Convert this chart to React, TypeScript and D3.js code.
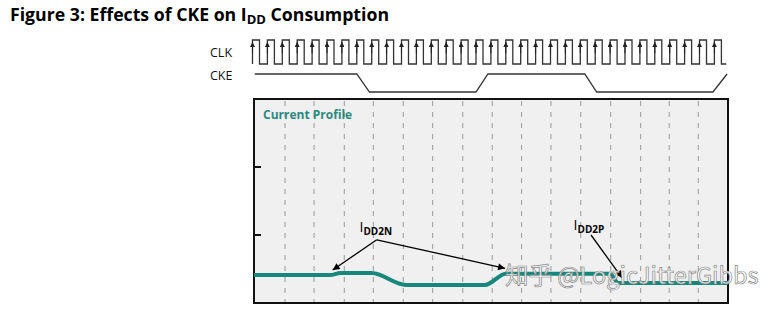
import React from "react";
import * as d3 from "d3";

// ---------- data ----------
const clkEdges = [0, 1, 2, 3, 4, 5, 6, 7, 8, 9, 10, 11, 12, 13, 14, 15, 16, 17, 18, 19, 20, 21, 22, 23, 24, 25, 26, 27, 28, 29, 30, 31];
const ckeTimes = [0.15, 7.0, 7.85, 15.0, 15.8, 22.3, 23.1, 30.9, 31.85];
const ckeLevels = [1, 1, 0, 0, 1, 1, 0, 0, 1];
const gridCycles = [2.18, 4.13, 6.16, 8.11, 10.12, 12.09, 14.11, 16.09, 18.06, 20.03, 22.03, 24.04, 26.05, 27.97, 29.92];
const yTicks = [1, 2];
const currentT = [0.1, 5.2, 5.9, 8.0, 10.3, 15.6, 17.0, 24.0, 24.55, 31.9];
const currentV = [0.41, 0.41, 0.44, 0.44, 0.265, 0.265, 0.43, 0.43, 0.295, 0.295];
const labels = [
  { main: "I", sub: "DD2N", t: 7.18, v: 1.04 },
  { main: "I", sub: "DD2P", t: 21.55, v: 1.07 },
];
const arrows = [
  { t0: 8.34, v0: 0.93, t1: 5.38, v1: 0.485 },
  { t0: 8.34, v0: 0.93, t1: 16.95, v1: 0.51 },
  { t0: 22.72, v0: 1.0, t1: 24.8, v1: 0.37 },
];

const W = 779;
const H = 310;
const FONT = "'Open Sans', 'Noto Sans', sans-serif";
const TEAL = "#15877b";

export default function App() {
  const x = d3.scaleLinear().domain([0, 32]).range([252.5, 252.5 + 32 * 14.9]);
  const y = d3.scaleLinear().domain([0, 3]).range([303, 99]);
  const clkY = d3.scaleLinear().domain([0, 1]).range([64, 40]);
  const ckeY = d3.scaleLinear().domain([0, 1]).range([92, 74]);

  const frameL = 254;
  const frameR = 728;
  const frameT = y(3);
  const frameB = y(0);

  // clock path
  const clkPts: [number, number][] = [];
  clkEdges.forEach((k) => {
    clkPts.push([x(k), clkY(0)]);
    clkPts.push([x(k), clkY(1)]);
    clkPts.push([x(k + 0.47), clkY(1)]);
    clkPts.push([x(k + 0.47), clkY(0)]);
  });
  clkPts.push([x(clkEdges[clkEdges.length - 1] + 0.8), clkY(0)]);
  const clkPath = d3.line()(clkPts) as string;

  const ckePath = d3.line<number>()
    .x((_, i) => x(ckeTimes[i]))
    .y((d) => ckeY(d))(ckeLevels) as string;

  const curPath = d3.line<number>()
    .x((_, i) => x(currentT[i]))
    .y((d) => y(d))
    .curve(d3.curveMonotoneX)(currentV) as string;

  return (
    <svg
      width={W}
      height={H}
      style={{ position: "absolute", left: 0, top: 0, background: "#fff" }}
      fontFamily={FONT}
    >
      <defs>
        <marker id="ah" viewBox="0 0 10 10" refX="10" refY="5" markerWidth="9" markerHeight="7" markerUnits="userSpaceOnUse" orient="auto">
          <path d="M0,0 L10,5 L0,10 z" fill="#000" />
        </marker>
        <marker id="clkArrow" viewBox="0 0 10 10" refX="10" refY="5" markerWidth="6" markerHeight="5" markerUnits="userSpaceOnUse" orient="auto">
          <path d="M0,0 L10,5 L0,10 z" fill="#222" />
        </marker>
      </defs>

      {/* title */}
      <text x={10} y={21} fontSize={17.7} fontWeight="bold" fill="#000">
        Figure 3: Effects of CKE on I
        <tspan fontSize={13} dy={3}>DD</tspan>
        <tspan dy={-3}> Consumption</tspan>
      </text>

      {/* signal labels */}
      <text x={210} y={57} fontSize={12.5} fill="#111">CLK</text>
      <text x={210} y={80} fontSize={12.5} fill="#111">CKE</text>

      {/* clock */}
      <path d={clkPath} fill="none" stroke="#333" strokeWidth={1.3} />
      {clkEdges.map((k) => (
        <line key={k} x1={x(k)} x2={x(k)} y1={clkY(0.45)} y2={clkY(0.92)} stroke="#222" strokeWidth={1} markerEnd="url(#clkArrow)" />
      ))}

      {/* CKE */}
      <path d={ckePath} fill="none" stroke="#333" strokeWidth={1.3} />

      {/* frame */}
      <rect x={frameL} y={frameT} width={frameR - frameL} height={frameB - frameT} fill="#f0f0f0" stroke="none" />
      {gridCycles.map((c, i) => (
        <line key={i} x1={x(c)} x2={x(c)} y1={frameT + 2} y2={frameB - 1} stroke="#9a9a9a" strokeWidth={1} strokeDasharray="5,6" />
      ))}
      <rect x={frameL} y={frameT} width={frameR - frameL} height={frameB - frameT} fill="none" stroke="#111" strokeWidth={2} />
      {yTicks.map((t) => (
        <line key={t} x1={frameL} x2={frameL + 7} y1={y(t)} y2={y(t)} stroke="#111" strokeWidth={2} />
      ))}

      <text x={263} y={119} fontSize={12} fontWeight="bold" fill="#2a8a80">Current Profile</text>

      {/* current line */}
      <path d={curPath} fill="none" stroke={TEAL} strokeWidth={4} />

      {/* annotations */}
      {arrows.map((a, i) => (
        <line key={i} x1={x(a.t0)} y1={y(a.v0)} x2={x(a.t1)} y2={y(a.v1)} stroke="#000" strokeWidth={1.3} markerEnd="url(#ah)" />
      ))}
      {labels.map((l, i) => (
        <text key={i} x={x(l.t)} y={y(l.v)} fontSize={14} fill="#000">
          {l.main}
          <tspan fontSize={10} fontWeight="bold" dy={3}>{l.sub}</tspan>
        </text>
      ))}

      {/* watermark */}
      <text x={505} y={284} fontSize={23.5} fill="#ffffff" fillOpacity={0.85} stroke="#888" strokeWidth={0.7} fontFamily="'Noto Sans CJK SC', 'Noto Sans', sans-serif">
        知乎 @LogicJitterGibbs
      </text>
    </svg>
  );
}
